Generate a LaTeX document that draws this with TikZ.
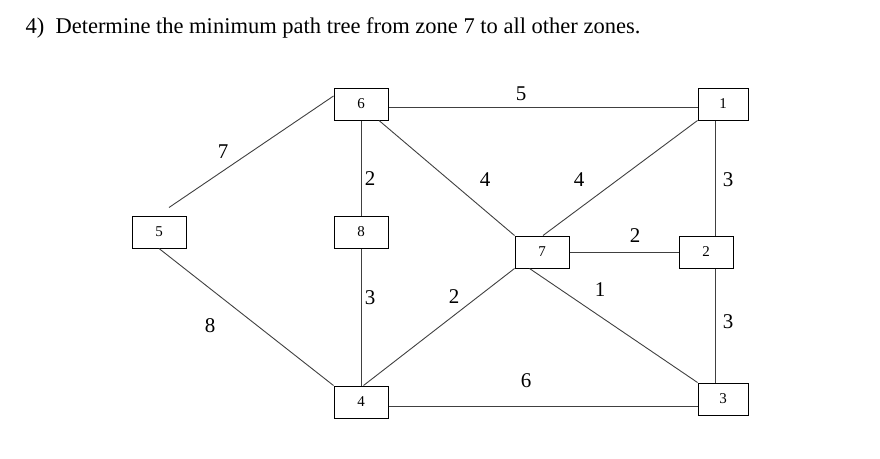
\documentclass[tikz,border=0pt]{standalone}
\usepackage{fontspec}
\setmainfont{Liberation Serif}
\begin{document}
\begin{tikzpicture}[x=1pt,y=-1pt,
  zone/.style={draw,line width=1pt,minimum width=54pt,minimum height=32pt,font=\fontsize{15}{15}\selectfont,inner sep=0pt},
  edge/.style={line width=0.9pt,draw=black!75},
  wt/.style={font=\fontsize{21}{21}\selectfont}]
\useasboundingbox (0,0) rectangle (880,458);
\node[anchor=west,font=\fontsize{22.5}{22.5}\selectfont] (title) at (22,28) {4)\ \ Determine the minimum path tree from zone 7 to all other zones.};
\node[zone] (n6) at (361,104) {6};
\node[zone,minimum width=50pt] (n1) at (723,104) {1};
\node[zone] (n5) at (159,232) {5};
\node[zone] (n8) at (361,232) {8};
\node[zone] (n7) at (542,252) {7};
\node[zone] (n2) at (706,252) {2};
\node[zone] (n4) at (361,402) {4};
\node[zone,minimum width=50pt] (n3) at (723,399) {3};
\coordinate (a) at ([yshift=8]n6.west);
\coordinate (b) at ([xshift=10,yshift=8]n5.north);
\draw[edge] (b) -- (a);
\draw[edge] ([yshift=-3]n6.east) -- ([yshift=-3]n1.west);
\draw[edge] (n6.south) -- (n8.north);
\draw[edge] (n8.south) -- (n4.north);
\draw[edge] ([xshift=18]n6.south) -- (n7.north west);
\draw[edge] (n1.south west) -- ([xshift=1]n7.north);
\draw[edge] (n7.east) -- (n2.west);
\draw[edge] ([xshift=-8]n1.south) -- ([xshift=-8]n1.south |- n2.north);
\draw[edge] ([xshift=-8]n3.north |- n2.south) -- ([xshift=-8]n3.north);
\draw[edge] ([xshift=15]n7.south west) -- (n3.north west);
\draw[edge] (n7.south west) -- ([xshift=-25]n4.north east);
\draw[edge] (n5.south) -- (n4.north west);
\draw[edge] ([yshift=-7]n3.west -| n4.east) -- ([yshift=-7]n3.west);
\node[wt] (w1) at (223,152) {7};
\node[wt] (w2) at (370,179) {2};
\node[wt] (w3) at (485,180) {4};
\node[wt] (w4) at (579,180) {4};
\node[wt] (w5) at (728,180) {3};
\node[wt] (w6) at (521,94) {5};
\node[wt] (w7) at (635,236) {2};
\node[wt] (w8) at (370,298) {3};
\node[wt] (w9) at (454,297) {2};
\node[wt] (w10) at (600,290) {1};
\node[wt] (w11) at (210,326) {8};
\node[wt] (w12) at (728,322) {3};
\node[wt] (w13) at (526,381) {6};
\end{tikzpicture}
\end{document}
